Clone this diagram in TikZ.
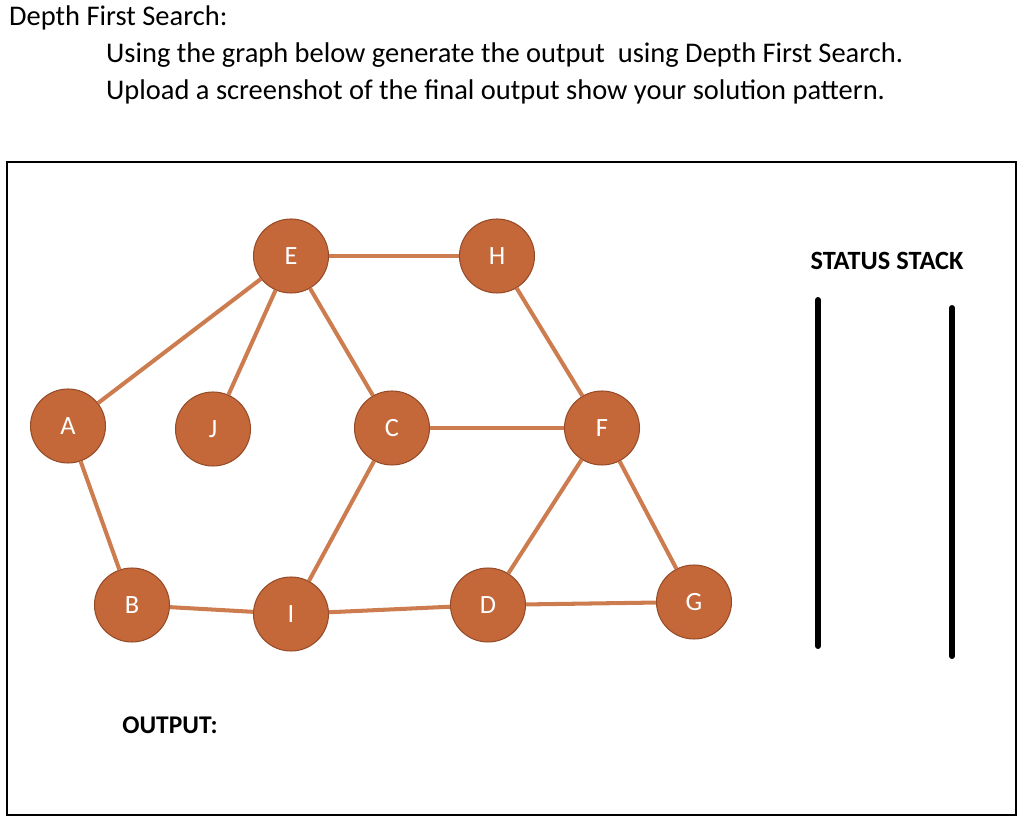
\documentclass[tikz,border=0pt]{standalone}
\usepackage{fontspec}
\usetikzlibrary{shapes.geometric}
\setmainfont{Carlito}
\definecolor{nfill}{RGB}{196,104,58}
\definecolor{ndraw}{RGB}{150,75,40}
\definecolor{edge}{RGB}{204,124,78}
\begin{document}
\begin{tikzpicture}[x=0.02cm,y=-0.02cm,
  vert/.style={ellipse,draw=ndraw,line width=0.6pt,fill=nfill,text=white,font=\fontsize{15}{17}\selectfont,minimum width=1.5cm,minimum height=1.48cm,inner sep=0pt},
  conn/.style={edge,line width=2.3pt},
  stackline/.style={line width=3.4pt,black,line cap=round}]
\useasboundingbox (0,0) rectangle (1019,820);
\draw[line width=0.6pt] (7,162) rectangle (1016,815);
\node[anchor=west,font=\fontsize{16.2}{19}\selectfont] (t1) at (3,18) {Depth First Search:};
\node[anchor=west,font=\fontsize{16.2}{19}\selectfont] (t2) at (100,55) {Using the graph below generate the output\ \ using Depth First Search.};
\node[anchor=west,font=\fontsize{16.2}{19}\selectfont] (t3) at (100,92) {Upload a screenshot of the final output show your solution pattern.};
\foreach \a/\b in {A/E,E/J,E/H,E/C,H/F,A/B,C/F,C/I,F/D,F/G,B/I,I/D,D/G}{}
\node[vert] (E) at (291,256) {E};
\node[vert] (H) at (497,256) {H};
\node[vert] (A) at (68,426) {A};
\node[vert] (J) at (213,429) {J};
\node[vert] (C) at (392,428) {C};
\node[vert] (F) at (602,428) {F};
\node[vert] (B) at (132,605) {B};
\node[vert] (I) at (291,614) {I};
\node[vert] (D) at (488,605) {D};
\node[vert] (G) at (694,602) {G};
\foreach \a/\b in {A/E,E/J,E/H,E/C,H/F,A/B,C/F,C/I,F/D,F/G,B/I,I/D,D/G}
  \draw[conn] (\a) -- (\b);
\node[font=\bfseries\fontsize{15}{17}\selectfont] (ss) at (887,261) {STATUS STACK};
\node[font=\bfseries\fontsize{14.5}{17}\selectfont] (out) at (170,725) {OUTPUT:};
\coordinate (l1) at (818,300); \coordinate (l2) at (818,646);
\coordinate (r1) at (952,308); \coordinate (r2) at (952,656);
\draw[stackline] (l1) -- (l2);
\draw[stackline] (r1) -- (r2);
\end{tikzpicture}
\end{document}
